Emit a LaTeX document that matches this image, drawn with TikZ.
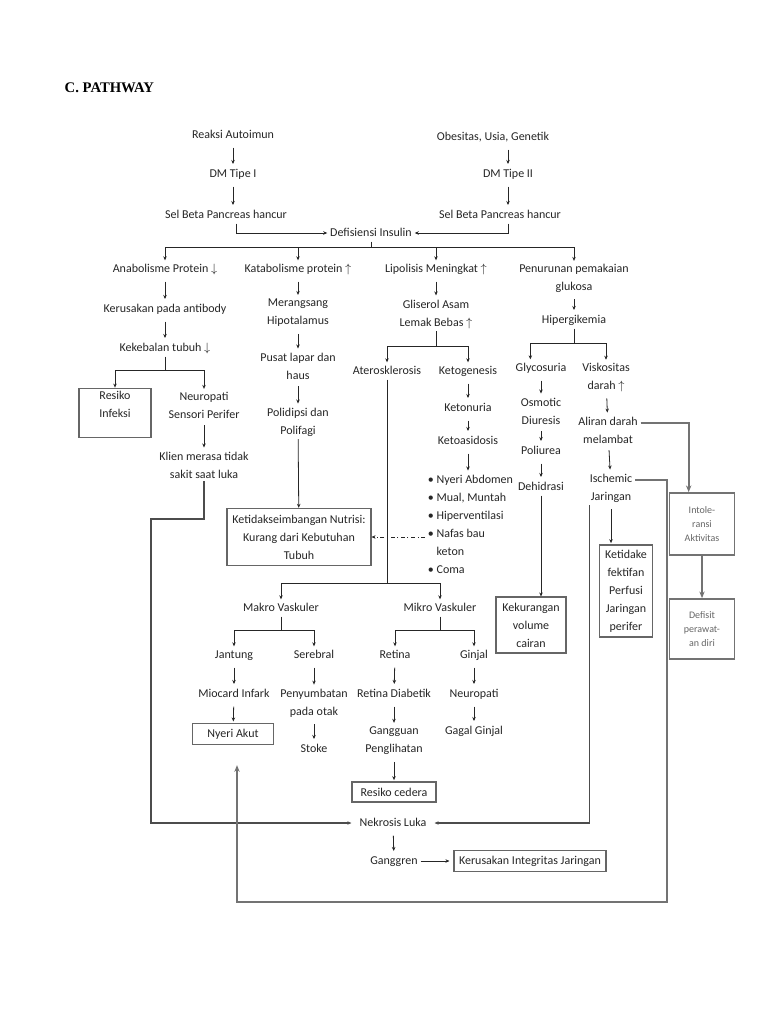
\documentclass[tikz,border=0pt]{standalone}
\usepackage{fontspec}
\setmainfont{Carlito}
\newfontfamily\titlefont{Liberation Serif}
\usetikzlibrary{calc,arrows.meta}
\tikzset{
	mtxt/.style={font=\fontsize{9}{13.5}\selectfont, align=center, inner sep=2pt, text=black!85},
	txt/.style={mtxt, text height=6.6pt, text depth=2pt},
	box/.style={mtxt, draw=black!60, line width=0.8pt},
	gbox/.style={draw=black!55, line width=1.3pt, align=center, inner sep=2pt, text=black!60, font=\fontsize{7.5}{10.5}\selectfont},
	ln/.style={draw=black!85, line width=0.6pt},
	arr/.style={ln, -{Stealth[length=3pt,width=2.6pt]}},
	sarr/.style={arr, shorten <=3pt, shorten >=1pt},
	narr/.style={draw=black!70, line width=0.9pt, -{Stealth[length=3pt,width=2.6pt]}},
	garr/.style={draw=black!55, line width=1.4pt, -{Stealth[length=5pt,width=4pt]}}
}

\begin{document}
\begin{tikzpicture}[x=0.75pt, y=-0.75pt]
		%%%%% START %%%%%
		\fill[white] (0,0) rectangle (768,1024);
		\useasboundingbox (0,0) rectangle (768,1024);
		
		\node[anchor=west, font=\titlefont\bfseries\fontsize{11}{13}\selectfont] (title) at (60,88) {C. PATHWAY};
		
		% top: two causes
		\node[txt] (reaksi) at (233,135) {Reaksi Autoimun};
		\node[txt] (dmA) at (233,174) {DM Tipe I};
		\node[txt] (selA) at (226,215) {Sel Beta Pancreas hancur};
		\node[txt] (obes) at (493,137) {Obesitas, Usia, Genetik};
		\node[txt] (dmB) at (508,174) {DM Tipe II};
		\node[txt] (selB) at (500,215) {Sel Beta Pancreas hancur};
		\node[txt] (defis) at (371,233) {Defisiensi Insulin};
		
		\draw[sarr] (reaksi) -- (dmA);
		\draw[sarr] (dmA) -- (dmA |- selA.north);
		\draw[sarr] (dmB |- obes.south) -- (dmB);
		\draw[sarr] (dmB) -- (dmB |- selB.north);
		\draw[arr] ([xshift=8pt]selA.south) |- (defis.west);
		\draw[arr] (selB.south -| dmB) |- (defis.east);
		
		% four branches
		\node[txt] (ana) at (165,269) {Anabolisme Protein $\downarrow$};
		\node[txt] (kat) at (298,269) {Katabolisme protein $\uparrow$};
		\node[txt] (lip) at (436,269) {Lipolisis Meningkat $\uparrow$};
		\node[mtxt] (pen) at (574,278) {Penurunan pemakaian\\glukosa};
		
		\coordinate (busA) at (371,247);
		\draw[ln] (defis.south) -- (busA);
		\draw[ln] (ana.north |- busA) -- (pen.north |- busA);
		\draw[arr] (ana.north |- busA) -- (ana.north);
		\draw[arr] (kat.north |- busA) -- (kat.north);
		\draw[arr] (lip.north |- busA) -- (lip.north);
		\draw[arr] (pen.north |- busA) -- (pen.north);
		
		% anabolisme
		\node[txt] (kerus) at (165,309) {Kerusakan pada antibody};
		\node[txt] (kebal) at (165,348) {Kekebalan tubuh $\downarrow$};
		\node[box, minimum width=54pt, minimum height=37pt] (infeksi) at (115,413) {Resiko\\Infeksi\\\mbox{}};
		\node[mtxt] (neuroS) at (204,405) {Neuropati\\Sensori Perifer};
		\node[mtxt] (klien) at (204,465) {Klien merasa tidak\\sakit saat luka};
		
		\draw[sarr] (ana) -- (kerus);
		\draw[sarr] (kerus) -- (kebal);
		\coordinate (busB) at (165,370);
		\draw[ln] (kebal.south) -- (busB);
		\draw[ln] (infeksi.north |- busB) -- (neuroS.north |- busB);
		\draw[arr] (infeksi.north |- busB) -- (infeksi.north);
		\draw[arr] (neuroS.north |- busB) -- (neuroS.north);
		\draw[sarr] (neuroS) -- (klien);
		
		% katabolisme
		\node[mtxt] (meran) at (298,313) {Merangsang\\Hipotalamus};
		\node[mtxt] (pusat) at (298,366) {Pusat lapar dan\\haus};
		\node[mtxt] (polid) at (298,422) {Polidipsi dan\\Polifagi};
		\node[box, minimum width=108pt, minimum height=43pt] (nutri) at (299,537) {Ketidakseimbangan Nutrisi:\\Kurang dari Kebutuhan\\Tubuh};
		
		\draw[sarr] (kat) -- (meran);
		\draw[sarr] (meran) -- (pusat);
		\draw[sarr] (pusat) -- (polid);
		\draw[arr] (polid) -- (nutri);
		
		% lipolisis
		\node[mtxt] (glis) at (436,314) {Gliserol Asam\\Lemak Bebas $\uparrow$};
		\node[txt] (ater) at (387,371) {Aterosklerosis};
		\node[txt] (ketog) at (468,371) {Ketogenesis};
		\node[txt] (keton) at (468,408) {Ketonuria};
		\node[txt] (ketoa) at (468,441) {Ketoasidosis};
		\node[mtxt, align=left, anchor=west] (gejala) at (425,524) {\textbullet\ Nyeri Abdomen\\\textbullet\ Mual, Muntah\\\textbullet\ Hiperventilasi\\\textbullet\ Nafas bau\\\phantom{\textbullet\ }keton\\\textbullet\ Coma};
		
		\draw[sarr] (lip) -- (glis);
		\coordinate (busC) at (436,346);
		\draw[ln] (glis.south) -- (busC);
		\draw[ln] (ater.north |- busC) -- (ketog.north |- busC);
		\draw[arr] (ater.north |- busC) -- (ater.north);
		\draw[arr] (ketog.north |- busC) -- (ketog.north);
		\draw[sarr] (ketog) -- (keton);
		\draw[sarr] (keton) -- (ketoa);
		\draw[sarr] (ketoa.south) -- (ketoa.south |- gejala.north);
		\draw[arr, dash dot] (gejala.west |- nutri.east) -- (nutri.east);
		
		% vaskuler
		\node[txt] (makro) at (281,608) {Makro Vaskuler};
		\node[txt] (mikro) at (440,608) {Mikro Vaskuler};
		\coordinate (busD) at (387,583);
		\draw[ln] (ater.south) -- (busD);
		\draw[ln] (makro.north |- busD) -- (mikro.north |- busD);
		\draw[arr] (makro.north |- busD) -- (makro.north);
		\draw[arr] (mikro.north |- busD) -- (mikro.north);
		
		\node[txt] (jant) at (234,655) {Jantung};
		\node[txt] (sereb) at (314,655) {Serebral};
		\node[txt] (retina) at (395,655) {Retina};
		\node[txt] (ginjal) at (474,655) {Ginjal};
		\coordinate (busF) at (281,630);
		\coordinate (busG) at (440,630);
		\draw[ln] (makro.south) -- (busF);
		\draw[ln] (mikro.south) -- (busG);
		\draw[ln] (jant.north |- busF) -- (sereb.north |- busF);
		\draw[ln] (retina.north |- busG) -- (ginjal.north |- busG);
		\draw[arr] (jant.north |- busF) -- (jant.north);
		\draw[arr] (sereb.north |- busF) -- (sereb.north);
		\draw[arr] (retina.north |- busG) -- (retina.north);
		\draw[arr] (ginjal.north |- busG) -- (ginjal.north);
		
		\node[txt] (mioc) at (234,694) {Miocard Infark};
		\node[mtxt] (penyum) at (314,703) {Penyumbatan\\pada otak};
		\node[txt] (retdi) at (394,694) {Retina Diabetik};
		\node[txt] (neurG) at (474,694) {Neuropati};
		\node[box, minimum width=61pt, minimum height=16pt] (nyeri) at (233,734) {Nyeri Akut};
		\node[txt] (stoke) at (314,749) {Stoke};
		\node[mtxt] (ganggu) at (394,741) {Gangguan\\Penglihatan};
		\node[txt] (gagal) at (474,731) {Gagal Ginjal};
		\node[box, minimum width=63pt, minimum height=15pt] (cedera) at (394,792) {Resiko cedera};
		
		\draw[sarr] (jant) -- (mioc);
		\draw[sarr] (sereb) -- (penyum);
		\draw[sarr] (retina) -- (retdi);
		\draw[sarr] (ginjal) -- (neurG);
		\draw[sarr] (mioc) -- (nyeri);
		\draw[sarr] (penyum) -- (stoke);
		\draw[sarr] (retdi) -- (ganggu);
		\draw[sarr] (neurG) -- (gagal);
		\draw[sarr] (ganggu) -- (cedera);
		
		% hiperglikemia
		\node[txt] (hiper) at (574,320) {Hipergikemia};
		\node[txt] (glyco) at (541,368) {Glycosuria};
		\node[mtxt] (visko) at (606,377) {Viskositas\\darah $\uparrow$};
		\node[mtxt] (osmo) at (541,411) {Osmotic\\Diuresis};
		\node[txt] (poli) at (541,451) {Poliurea};
		\node[txt] (dehid) at (541,487) {Dehidrasi};
		\node[box, minimum width=52.5pt, minimum height=42pt] (kurang) at (531,625) {Kekurangan\\volume\\cairan};
		\node[mtxt] (aliran) at (608,430) {Aliran darah\\melambat};
		\node[mtxt] (isch) at (611,488) {Ischemic\\Jaringan};
		\node[box, minimum width=40pt, minimum height=69pt] (perfusi) at (626,591) {Ketidake\\fektifan\\Perfusi\\Jaringan\\perifer};
		\node[gbox, minimum width=48.75pt, minimum height=46.5pt] (into) at (702,524) {Intole-\\ransi\\Aktivitas};
		\node[gbox, minimum width=48.75pt, minimum height=45pt] (defisit) at (702,629) {Defisit\\perawat-\\an diri};
		
		\draw[sarr] (pen) -- (hiper);
		\coordinate (busE) at (574,343);
		\draw[ln] (hiper.south) -- (busE);
		\draw[ln] ([xshift=-8pt]glyco.north |- busE) -- (visko.north |- busE);
		\draw[arr] ([xshift=-8pt]glyco.north |- busE) -- ([xshift=-8pt]glyco.north);
		\draw[arr] (visko.north |- busE) -- (visko.north);
		\draw[sarr] (glyco) -- (osmo);
		\draw[sarr] (osmo) -- (poli);
		\draw[sarr] (poli) -- (dehid);
		\draw[arr] (dehid.south) -- (dehid.south |- kurang.north);
		\draw[sarr] (visko) -- (aliran);
		\draw[sarr] (aliran) -- (isch);
		\draw[sarr] (isch.south) -- (isch.south |- perfusi.north);
		\draw[garr] ([yshift=5.5pt]aliran.east) -| ([xshift=-10pt]into.north);
		\draw[garr] (into) -- (defisit);
		
		% nekrosis
		\node[txt] (nekro) at (393,823) {Nekrosis Luka};
		\node[txt] (gangg) at (394,861) {Ganggren};
		\node[box, text height=6.6pt, text depth=2pt, minimum width=114pt, minimum height=16pt] (integ) at (530,861) {Kerusakan Integritas Jaringan};
		
		\draw[sarr] (nekro) -- (gangg);
		\draw[arr, shorten >=3pt] (gangg) -- (integ);
		
		\coordinate (kinkA) at (151,519);
		\draw[narr, shorten >=4pt] (klien.south) |- (kinkA) |- (nekro.west);
		\draw[narr, shorten >=4pt] ([xshift=2pt]isch.south west) |- (nekro.east);
		
		\coordinate (loopR) at (667,902);
		\coordinate (loopL) at (237,902);
		\draw[garr, shorten >=15pt] ([yshift=6pt]isch.east) -| (loopR) -- (loopL) -- (loopL |- nyeri.south);
		%%%%% END %%%%%
	\end{tikzpicture}
\end{document}
